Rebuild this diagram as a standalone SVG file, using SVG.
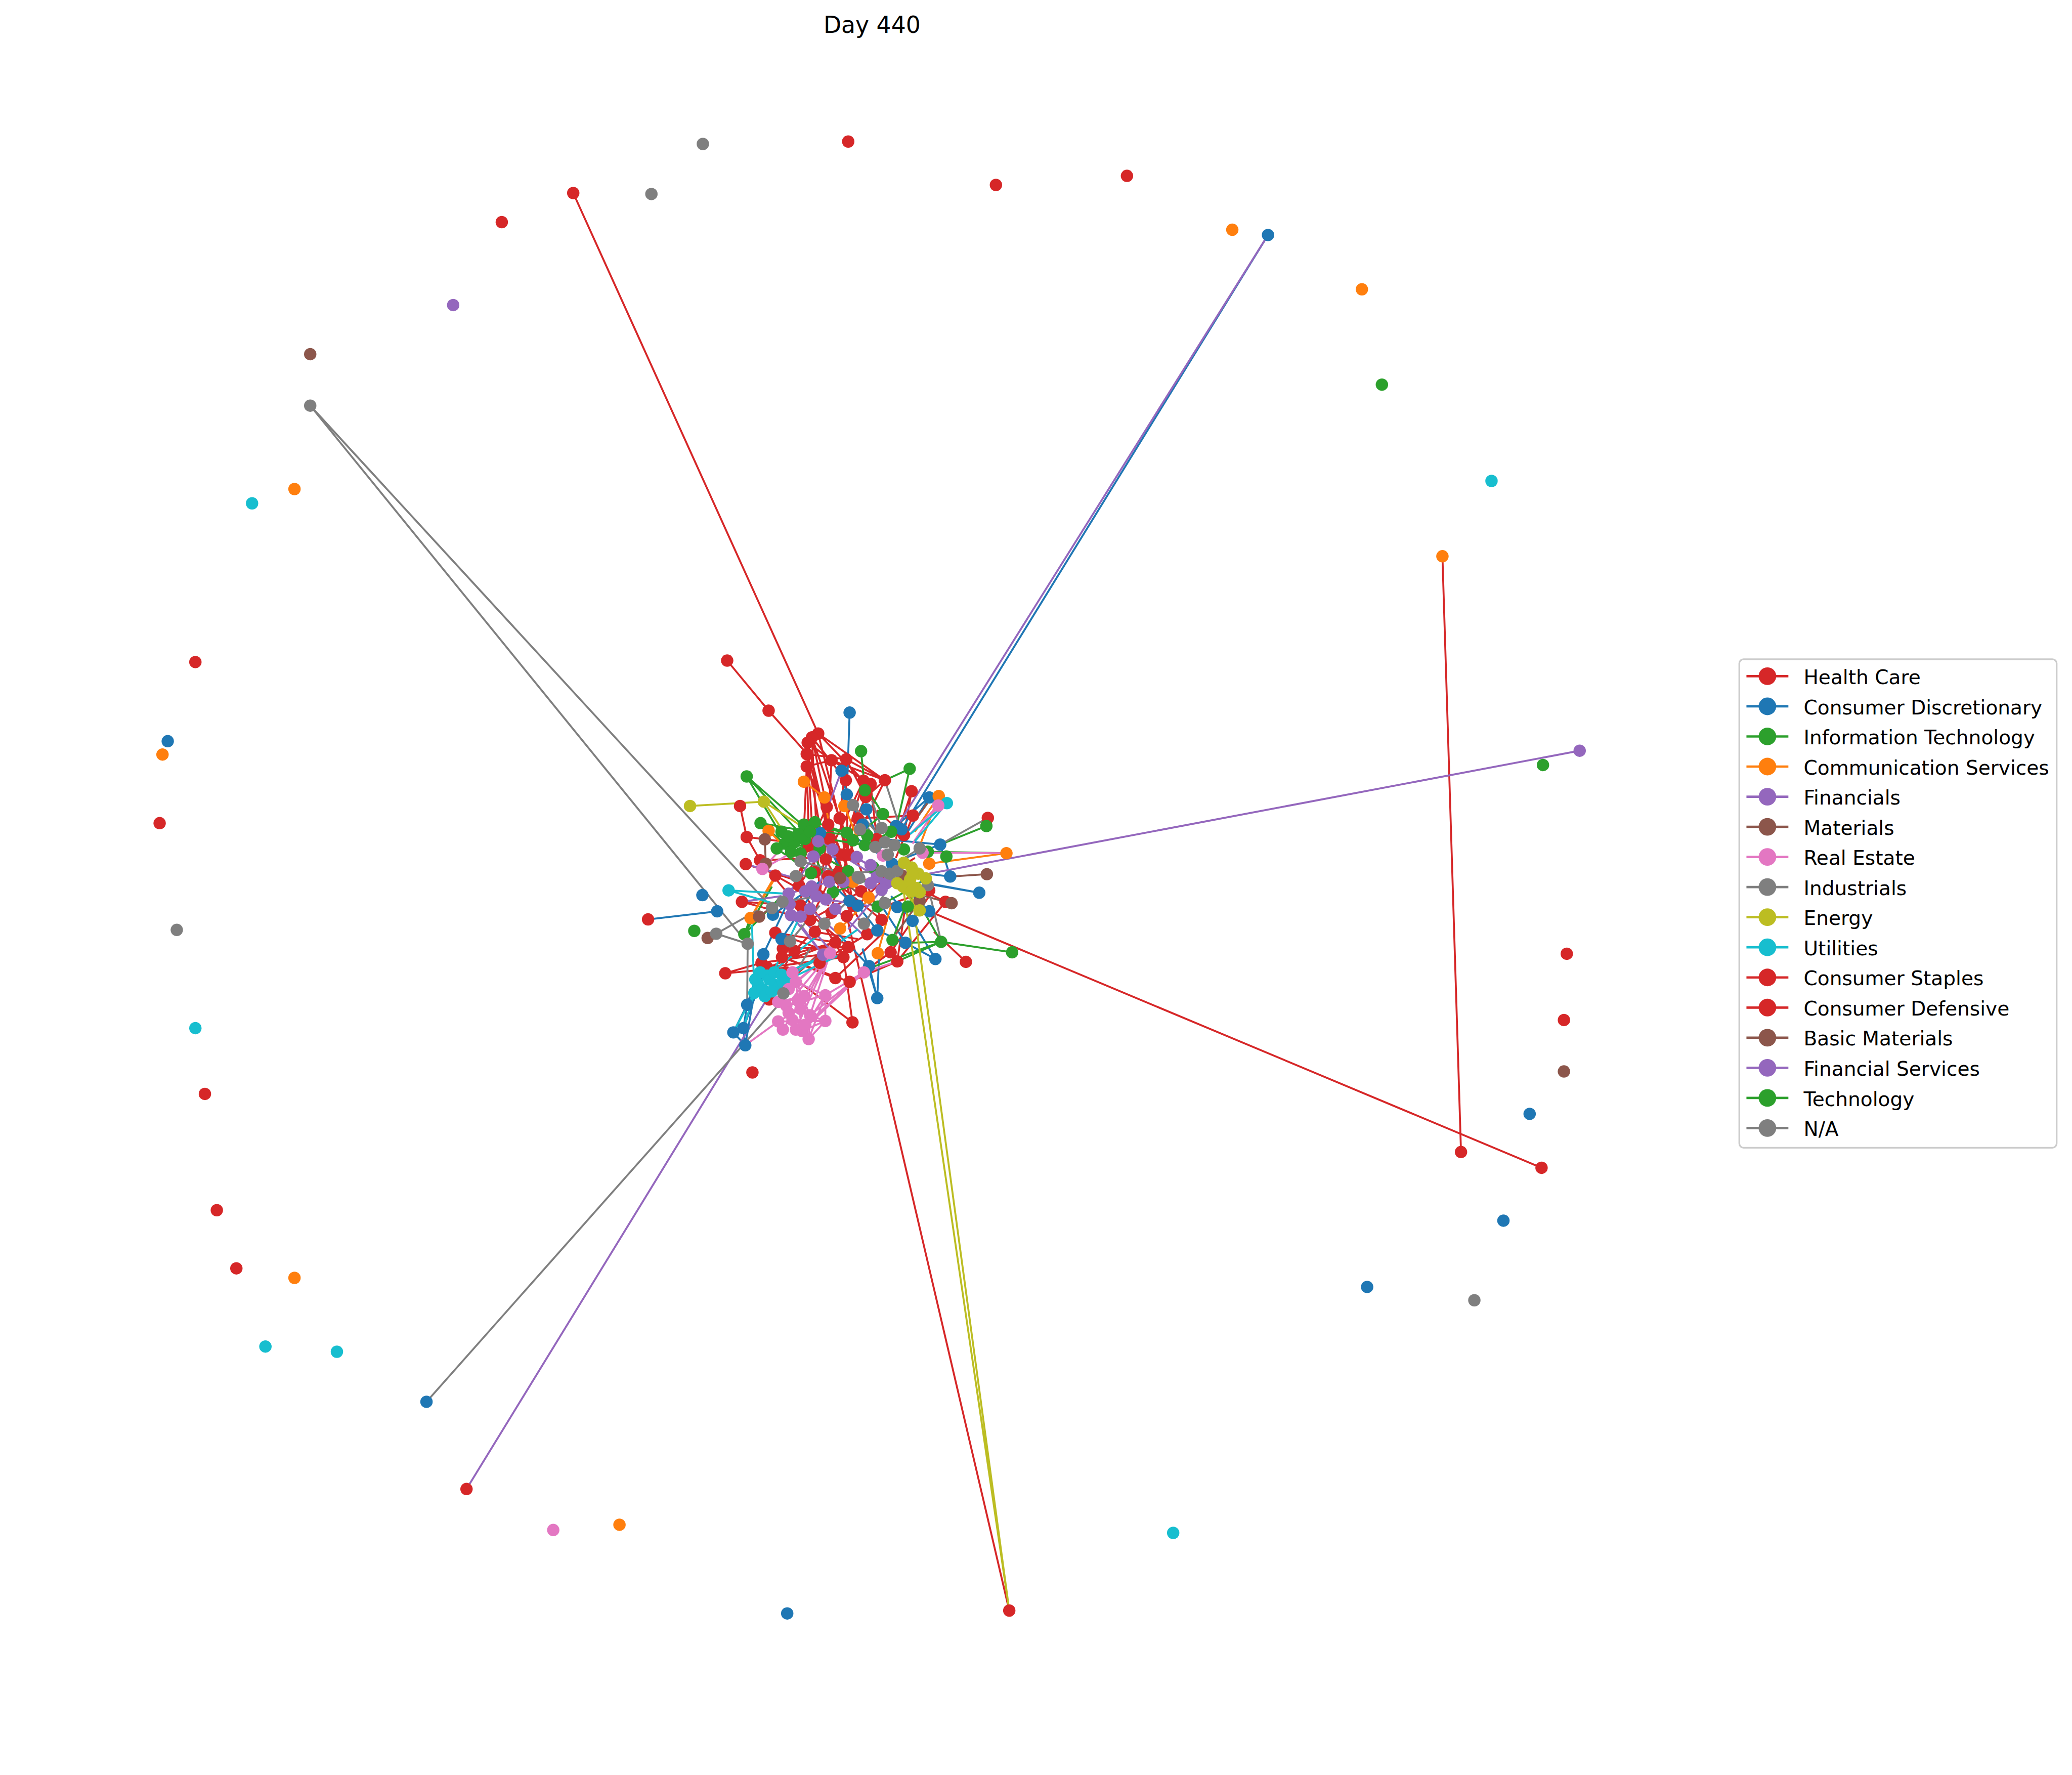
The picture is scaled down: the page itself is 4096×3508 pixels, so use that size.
<svg xmlns="http://www.w3.org/2000/svg" width="4096" height="3508" viewBox="0 0 4096 3508">
<style>
text{font-family:"DejaVu Sans","Liberation Sans",sans-serif;fill:#000}
.e{fill:none;stroke-width:4;stroke-linecap:butt}
.s0{stroke:#d62728}.s1{stroke:#1f77b4}.s2{stroke:#2ca02c}.s3{stroke:#ff7f0e}.s4{stroke:#9467bd}
.s5{stroke:#8c564b}.s6{stroke:#e377c2}.s7{stroke:#7f7f7f}.s8{stroke:#bcbd22}.s9{stroke:#17becf}
.c0{fill:#d62728}.c1{fill:#1f77b4}.c2{fill:#2ca02c}.c3{fill:#ff7f0e}.c4{fill:#9467bd}
.c5{fill:#8c564b}.c6{fill:#e377c2}.c7{fill:#7f7f7f}.c8{fill:#bcbd22}.c9{fill:#17becf}
#nodes circle{r:13px}
#legend circle{r:18.5px}
#legend line{stroke-width:5}
#legend text{font-size:41.5px}
</style>
<rect width="4096" height="3508" fill="#fff"/>
<g transform="scale(0.942)">
<text x="1830" y="69" font-size="48.5" text-anchor="middle">Day 440</text>
<g id="edges">
<path class="e s0" d="M1203 405L1717 1539M1526 1386L1613 1491L1695 1583M2118 3379L1777 1922M3235 2450L1950 1912M3066 2417L3027 1167M1717 1539L1812 1638M1717 1539L1857 1637M1704 1547L1775 1637M1704 1547L1762 1717M1704 1547L1735 1693M1695 1558L1745 1595M1695 1558L1740 1760M1693 1582L1776 1593M1693 1582L1738 1730M1693 1582L1733 1803M1693 1608L1698 1775M1693 1608L1745 1595M1693 1608L1767 1793M1695 1583L1710 1830M1745 1595L1857 1637M1776 1593L1857 1637M1745 1595L1827 1645M1776 1593L1817 1672M1717 1539L1693 1608M1704 1547L1693 1582M1857 1637L1817 1672M1913 1660L1897 1752M1913 1660L1880 1760M1916 1711L1800 1717M1775 1637L1780 1793M1812 1638L1767 1793M1827 1645L1840 1760M1735 1693L1760 1830M1762 1717L1790 1900M1738 1730L1720 1880M1740 1760L1780 1860M1567 1756L1595 1805L1700 1800M1567 1756L1680 1770M1565 1813L1680 1850M1595 1805L1700 1930M1627 1837L1740 1900M1557 1892L1660 1920M1557 1892L1680 1900M1680 1900L1780 1987M1677 1858L1770 2008M1710 1955L1800 1970M1627 1957L1753 1977M1627 1957L1770 2008M1643 1990L1780 1987M1641 2008L1753 1977M1598 2020L1742 2000M1610 2030L1770 2008M1610 2030L1753 1977M1522 2042L1598 2020M1522 2042L1650 2030M1641 2008L1753 2052M1641 2008L1783 2060M1650 2040L1789 2145M1753 2052L1850 1960M1783 2060L1883 2017M1783 2060L1869 1998M1789 2145L1770 2008M1869 1998L1950 1880M1883 2017L1984 1892M1883 2017L1900 1900M2027 2018L1960 1955M1984 1892L1900 1850M1807 1870L1920 1800M1807 1870L1700 1930M1950 1868L1860 1900M1777 1922L1860 1840M1738 1838L1850 1930M1614 2097L1720 2000M1614 2097L1660 2000M1897 1752L1840 1700M1916 1711L1880 1800M1553 1691L1567 1756M1720 2020L1820 1960M1667 1995L1745 1915M1693 1582L1790 1900M1695 1558L1760 1830M1704 1547L1720 1880M1717 1539L1780 1793M1693 1608L1680 1900M1745 1595L1738 1730M1776 1593L1762 1717M1812 1638L1733 1803M1857 1637L1780 1793M1827 1645L1767 1793M1735 1693L1698 1775M1762 1717L1850 1930M1738 1730L1800 1870M1740 1760L1677 1858M1780 1793L1740 1920M1733 1803L1820 1960M1767 1793L1700 1930M1698 1775L1650 1900"/>
<path class="e s1" d="M2661 493L1892 1740M1783 1495L1778 1640M1766 1617L1777 1667M1777 1667L1810 1730M1950 1673L1880 1733M1950 1673L1905 1745M1973 1772L1850 1760M1973 1772L1900 1800M2055 1873L1950 1855M2055 1873L1930 1850M1360 1929L1505 1912M1622 1919L1720 1850M1640 1970L1700 1880M1602 2002L1650 1900M1568 2108L1602 2002M1560 2157L1600 2050M1539 2166L1590 2063M1564 2193L1560 2157M1539 2166L1564 2193M1560 2157L1568 2108M1539 2166L1568 2108M1564 2193L1583 2083M1841 2094L1824 2027M1841 2094L1845 2000M1841 2094L1810 1990M1963 2012L1900 1978M1963 2012L1915 1932M1900 1978L1841 1952M1900 1978L1850 1900M1915 1932L1870 1880M1950 1912L1900 1863M1841 1952L1800 1900M1783 1890L1720 1830M1994 1839L1920 1830M1994 1839L1973 1772M1872 1812L1800 1760M1721 1748L1780 1850M1818 1698L1850 1780M1824 2027L1760 1960"/>
<path class="e s2" d="M1567 1629L1690 1760M1567 1629L1650 1770M1567 1629L1700 1745M1807 1576L1815 1658M1909 1613L1857 1637M1909 1613L1880 1740M1596 1727L1647 1770M2070 1733L1973 1772M2124 1998L1975 1976M1975 1976L1900 1978M1975 1976L1883 2017M1975 1976L1920 1880M1947 1787L2112 1790M1562 1960L1640 1880M1562 1960L1620 1860M1562 1960L1575 1926M1710 1725L1777 1747M1687 1730L1660 1787M1815 1773L1870 1745M1820 1753L1897 1782M1702 1832L1780 1828M1748 1872L1840 1840M1842 1902L1920 1860M1905 1902L1930 1850M1873 1972L1900 1900M1853 1708L1810 1640M1853 1708L1790 1760M1820 2033L1975 1976M1640 1745L1720 1780M1655 1755L1780 1828M1675 1750L1815 1773M1690 1760L1748 1872M1700 1745L1820 1753M1630 1780L1702 1832M1596 1727L1700 1745M1647 1770L1720 1780M1687 1730L1777 1747"/>
<path class="e s3" d="M1687 1640L1720 1665M1575 1926L1627 1837M1575 1926L1625 1845M1970 1670L1933 1767M1970 1670L1920 1745M1950 1812L2112 1790M1763 1948L1830 1880M1842 2000L1870 1900M1613 1743L1660 1790M1772 1691L1800 1760M1730 1673L1740 1730"/>
<path class="e s4" d="M3315 1575L1870 1848M2661 493L1880 1738M979 3124L1650 2030M1766 1617L1735 1700M1565 1813L1660 1840M1557 1892L1640 1880M1707 1797L1798 1798M1747 1782L1840 1840M1655 1875L1740 1850M1660 1920L1727 2003M1680 1923L1740 1990M1700 1907L1760 1960M1733 1887L1820 1900M1753 1907L1810 1960M1727 2003L1680 1940M1870 1848L1800 1800M1850 1867L1780 1950M1717 1765L1827 1815M1707 1797L1655 1875M1747 1782L1700 1907"/>
<path class="e s5" d="M2071 1834L1994 1839M1605 1761L1607 1812M1997 1895L1940 1880M1927 1712L1950 1680M1593 1923L1650 1880M1485 1968L1503 1959M1763 1842L1830 1900M1930 1890L1880 1960"/>
<path class="e s6" d="M1600 1823L1660 1790M1600 1823L1640 1780M1969 1690L1900 1760M1969 1690L1915 1770M1936 1789L2112 1790M1853 1795L1900 1830M1742 2000L1663 2040M1742 2000L1700 2130M1742 2000L1687 2090M1742 2000L1670 2060M1742 2000L1650 2110M1813 2040L1700 2130M1813 2040L1732 2088M1813 2040L1683 2163M1813 2040L1883 2017M1732 2088L1670 2060M1732 2088L1697 2180M1732 2088L1683 2163M1732 2088L1732 2142M1732 2142L1697 2180M1732 2142L1663 2140M1732 2142L1683 2163M1732 2142L1700 2130M1732 2142L1633 2143M1700 2130L1663 2040M1700 2130L1697 2180M1633 2143L1680 2117M1643 2160L1687 2090M1633 2143L1564 2193M1663 2140L1697 2180M1683 2163L1670 2060M1633 2102L1687 2090M1655 2075L1742 2000M1680 2117L1742 2000M1650 2110L1732 2088M1670 2160L1742 2000M1690 2150L1813 2040"/>
<path class="e s7" d="M651 851L1569 1980M651 851L1620 1905M895 2941L1650 2090M1569 1980L1568 2108M1503 1959L1569 1980M1503 1959L1590 1910M1857 1637L1890 1740M2073 1716L1973 1772M1790 1689L1830 1750M1813 1938L1860 1870M1730 1938L1790 1880M1658 1975L1720 1900M1642 1892L1720 1880M1644 2084L1700 1990M1947 1857L1973 1967M1850 1737L1830 1680M1930 1780L1850 1830M1680 1807L1800 1840M1670 1838L1850 1828M1790 1689L1857 1767"/>
<path class="e s8" d="M1448 1691L1603 1682M1603 1682L1700 1745M1603 1682L1680 1800M2118 3379L1895 1860M2118 3379L1913 1870M1897 1810L1943 1843M1883 1853L1930 1910"/>
<path class="e s9" d="M1987 1685L1910 1750M1987 1685L1920 1765M1529 1868L1650 1875M1529 1868L1640 1900M1610 2047L1720 1960M1627 2067L1750 1990M1643 2060L1770 2000M1657 2050L1800 1950M1583 2083L1578 1940M1583 2083L1539 2166M1590 2063L1560 2157M1600 2075L1568 2108M1615 2055L1680 1920M1640 2045L1740 2000"/>
</g>
<g id="nodes">
<g id="sector-red">
<circle id="n1" class="c0" cx="1780" cy="297"/><circle id="n2" class="c0" cx="2090" cy="388"/><circle id="n3" class="c0" cx="2365" cy="369"/><circle id="n4" class="c0" cx="1203" cy="405"/><circle id="n5" class="c0" cx="1053" cy="466"/><circle id="n6" class="c0" cx="410" cy="1389"/><circle id="n7" class="c0" cx="335" cy="1727"/><circle id="n8" class="c0" cx="3288" cy="2001"/><circle id="n9" class="c0" cx="3282" cy="2140"/><circle id="n10" class="c0" cx="430" cy="2295"/><circle id="n11" class="c0" cx="3066" cy="2417"/><circle id="n12" class="c0" cx="3235" cy="2450"/><circle id="n13" class="c0" cx="455" cy="2539"/><circle id="n14" class="c0" cx="496" cy="2661"/><circle id="n15" class="c0" cx="979" cy="3124"/><circle id="n16" class="c0" cx="2118" cy="3379"/>
<circle id="n17" class="c0" cx="1526" cy="1386"/><circle id="n18" class="c0" cx="1613" cy="1491"/><circle id="n19" class="c0" cx="1717" cy="1539"/><circle id="n20" class="c0" cx="1704" cy="1547"/><circle id="n21" class="c0" cx="1695" cy="1558"/><circle id="n22" class="c0" cx="1693" cy="1582"/><circle id="n23" class="c0" cx="1693" cy="1608"/><circle id="n24" class="c0" cx="1745" cy="1595"/><circle id="n25" class="c0" cx="1776" cy="1593"/><circle id="n26" class="c0" cx="1775" cy="1637"/><circle id="n27" class="c0" cx="1812" cy="1638"/><circle id="n28" class="c0" cx="1827" cy="1645"/><circle id="n29" class="c0" cx="1817" cy="1672"/><circle id="n30" class="c0" cx="1857" cy="1637"/><circle id="n31" class="c0" cx="1913" cy="1660"/><circle id="n32" class="c0" cx="1916" cy="1711"/><circle id="n33" class="c0" cx="1735" cy="1693"/><circle id="n34" class="c0" cx="1762" cy="1717"/><circle id="n35" class="c0" cx="1738" cy="1730"/><circle id="n36" class="c0" cx="1740" cy="1760"/><circle id="n37" class="c0" cx="1698" cy="1775"/><circle id="n38" class="c0" cx="1767" cy="1793"/><circle id="n39" class="c0" cx="1780" cy="1793"/><circle id="n40" class="c0" cx="1733" cy="1803"/><circle id="n41" class="c0" cx="1553" cy="1691"/><circle id="n42" class="c0" cx="1567" cy="1756"/><circle id="n43" class="c0" cx="1595" cy="1805"/><circle id="n44" class="c0" cx="1565" cy="1813"/><circle id="n45" class="c0" cx="1897" cy="1752"/><circle id="n46" class="c0" cx="2073" cy="1716"/><circle id="n47" class="c0" cx="1627" cy="1837"/><circle id="n48" class="c0" cx="1557" cy="1892"/><circle id="n49" class="c0" cx="1360" cy="1929"/><circle id="n50" class="c0" cx="1680" cy="1900"/><circle id="n51" class="c0" cx="1677" cy="1858"/><circle id="n52" class="c0" cx="1738" cy="1838"/><circle id="n53" class="c0" cx="1807" cy="1870"/><circle id="n54" class="c0" cx="1950" cy="1868"/><circle id="n55" class="c0" cx="1777" cy="1922"/><circle id="n56" class="c0" cx="1710" cy="1955"/><circle id="n57" class="c0" cx="1627" cy="1957"/><circle id="n58" class="c0" cx="1643" cy="1990"/><circle id="n59" class="c0" cx="1753" cy="1977"/><circle id="n60" class="c0" cx="1780" cy="1987"/><circle id="n61" class="c0" cx="1770" cy="2008"/><circle id="n62" class="c0" cx="1598" cy="2020"/><circle id="n63" class="c0" cx="1610" cy="2030"/><circle id="n64" class="c0" cx="1522" cy="2042"/><circle id="n65" class="c0" cx="1641" cy="2008"/><circle id="n66" class="c0" cx="1869" cy="1998"/><circle id="n67" class="c0" cx="1883" cy="2017"/><circle id="n68" class="c0" cx="1984" cy="1892"/><circle id="n69" class="c0" cx="2027" cy="2018"/><circle id="n70" class="c0" cx="1753" cy="2052"/><circle id="n71" class="c0" cx="1783" cy="2060"/><circle id="n72" class="c0" cx="1789" cy="2145"/><circle id="n73" class="c0" cx="1614" cy="2097"/><circle id="n74" class="c0" cx="1579" cy="2250"/><circle id="n75" class="c0" cx="1760" cy="1830"/><circle id="n76" class="c0" cx="1720" cy="1880"/><circle id="n77" class="c0" cx="1790" cy="1900"/><circle id="n78" class="c0" cx="1700" cy="1930"/><circle id="n79" class="c0" cx="1745" cy="1915"/><circle id="n80" class="c0" cx="1850" cy="1930"/><circle id="n81" class="c0" cx="1820" cy="1960"/><circle id="n82" class="c0" cx="1667" cy="1995"/><circle id="n83" class="c0" cx="1720" cy="2020"/><circle id="n84" class="c0" cx="1650" cy="2040"/><circle id="n85" class="c0" cx="1800" cy="1717"/><circle id="n86" class="c0" cx="1840" cy="1760"/><circle id="n87" class="c0" cx="1710" cy="1830"/>
</g>
<g id="sector-blue">
<circle id="n88" class="c1" cx="2661" cy="493"/><circle id="n89" class="c1" cx="352" cy="1555"/><circle id="n90" class="c1" cx="3210" cy="2337"/><circle id="n91" class="c1" cx="3155" cy="2561"/><circle id="n92" class="c1" cx="2869" cy="2700"/><circle id="n93" class="c1" cx="895" cy="2941"/><circle id="n94" class="c1" cx="1652" cy="3385"/>
<circle id="n95" class="c1" cx="1783" cy="1495"/><circle id="n96" class="c1" cx="1766" cy="1617"/><circle id="n97" class="c1" cx="1777" cy="1667"/><circle id="n98" class="c1" cx="1818" cy="1698"/><circle id="n99" class="c1" cx="1721" cy="1748"/><circle id="n100" class="c1" cx="1810" cy="1730"/><circle id="n101" class="c1" cx="1880" cy="1733"/><circle id="n102" class="c1" cx="1950" cy="1673"/><circle id="n103" class="c1" cx="1973" cy="1772"/><circle id="n104" class="c1" cx="1872" cy="1812"/><circle id="n105" class="c1" cx="1474" cy="1878"/><circle id="n106" class="c1" cx="1505" cy="1912"/><circle id="n107" class="c1" cx="1622" cy="1919"/><circle id="n108" class="c1" cx="1640" cy="1970"/><circle id="n109" class="c1" cx="1602" cy="2002"/><circle id="n110" class="c1" cx="1783" cy="1890"/><circle id="n111" class="c1" cx="1841" cy="1952"/><circle id="n112" class="c1" cx="1900" cy="1978"/><circle id="n113" class="c1" cx="1915" cy="1932"/><circle id="n114" class="c1" cx="1950" cy="1912"/><circle id="n115" class="c1" cx="1994" cy="1839"/><circle id="n116" class="c1" cx="2055" cy="1873"/><circle id="n117" class="c1" cx="1883" cy="1903"/><circle id="n118" class="c1" cx="1963" cy="2012"/><circle id="n119" class="c1" cx="1824" cy="2027"/><circle id="n120" class="c1" cx="1841" cy="2094"/><circle id="n121" class="c1" cx="1568" cy="2108"/><circle id="n122" class="c1" cx="1560" cy="2157"/><circle id="n123" class="c1" cx="1539" cy="2166"/><circle id="n124" class="c1" cx="1564" cy="2193"/><circle id="n125" class="c1" cx="1800" cy="1900"/><circle id="n315" class="c1" cx="1892" cy="1740"/>
</g>
<g id="sector-green">
<circle id="n126" class="c2" cx="2900" cy="807"/><circle id="n127" class="c2" cx="3238" cy="1605"/>
<circle id="n128" class="c2" cx="1807" cy="1576"/><circle id="n129" class="c2" cx="1909" cy="1613"/><circle id="n130" class="c2" cx="1815" cy="1658"/><circle id="n131" class="c2" cx="1567" cy="1629"/><circle id="n132" class="c2" cx="1596" cy="1727"/><circle id="n133" class="c2" cx="1853" cy="1708"/><circle id="n134" class="c2" cx="1710" cy="1725"/><circle id="n135" class="c2" cx="1687" cy="1730"/><circle id="n136" class="c2" cx="1647" cy="1770"/><circle id="n137" class="c2" cx="1667" cy="1767"/><circle id="n138" class="c2" cx="1660" cy="1787"/><circle id="n139" class="c2" cx="1777" cy="1747"/><circle id="n140" class="c2" cx="1790" cy="1763"/><circle id="n141" class="c2" cx="1815" cy="1773"/><circle id="n142" class="c2" cx="1820" cy="1753"/><circle id="n143" class="c2" cx="1870" cy="1745"/><circle id="n144" class="c2" cx="1897" cy="1782"/><circle id="n145" class="c2" cx="1986" cy="1797"/><circle id="n146" class="c2" cx="2070" cy="1733"/><circle id="n147" class="c2" cx="1702" cy="1832"/><circle id="n148" class="c2" cx="1748" cy="1872"/><circle id="n149" class="c2" cx="1780" cy="1828"/><circle id="n150" class="c2" cx="1842" cy="1902"/><circle id="n151" class="c2" cx="1905" cy="1902"/><circle id="n152" class="c2" cx="1562" cy="1960"/><circle id="n153" class="c2" cx="1457" cy="1953"/><circle id="n154" class="c2" cx="1873" cy="1972"/><circle id="n155" class="c2" cx="1975" cy="1976"/><circle id="n156" class="c2" cx="2124" cy="1998"/><circle id="n157" class="c2" cx="1640" cy="1745"/><circle id="n158" class="c2" cx="1655" cy="1755"/><circle id="n159" class="c2" cx="1675" cy="1750"/><circle id="n160" class="c2" cx="1690" cy="1760"/><circle id="n161" class="c2" cx="1700" cy="1745"/><circle id="n162" class="c2" cx="1630" cy="1780"/><circle id="n163" class="c2" cx="1680" cy="1790"/><circle id="n164" class="c2" cx="1833" cy="1820"/><circle id="n165" class="c2" cx="1947" cy="1787"/><circle id="n166" class="c2" cx="1720" cy="1780"/>
</g>
<g id="sector-orange">
<circle id="n167" class="c3" cx="2586" cy="482"/><circle id="n168" class="c3" cx="2858" cy="607"/><circle id="n169" class="c3" cx="618" cy="1026"/><circle id="n170" class="c3" cx="3027" cy="1167"/><circle id="n171" class="c3" cx="341" cy="1583"/><circle id="n172" class="c3" cx="618" cy="2681"/><circle id="n173" class="c3" cx="1300" cy="3199"/>
<circle id="n174" class="c3" cx="1687" cy="1640"/><circle id="n175" class="c3" cx="1730" cy="1673"/><circle id="n176" class="c3" cx="1772" cy="1691"/><circle id="n177" class="c3" cx="1970" cy="1670"/><circle id="n178" class="c3" cx="1613" cy="1743"/><circle id="n179" class="c3" cx="2112" cy="1790"/><circle id="n180" class="c3" cx="1950" cy="1812"/><circle id="n181" class="c3" cx="1575" cy="1926"/><circle id="n182" class="c3" cx="1763" cy="1948"/><circle id="n183" class="c3" cx="1842" cy="2000"/><circle id="n184" class="c3" cx="1823" cy="1883"/><circle id="n185" class="c3" cx="1790" cy="1850"/>
</g>
<g id="sector-purple">
<circle id="n186" class="c4" cx="951" cy="640"/><circle id="n187" class="c4" cx="3315" cy="1575"/>
<circle id="n188" class="c4" cx="1717" cy="1765"/><circle id="n189" class="c4" cx="1747" cy="1782"/><circle id="n190" class="c4" cx="1707" cy="1797"/><circle id="n191" class="c4" cx="1798" cy="1798"/><circle id="n192" class="c4" cx="1827" cy="1815"/><circle id="n193" class="c4" cx="1840" cy="1840"/><circle id="n194" class="c4" cx="1860" cy="1853"/><circle id="n195" class="c4" cx="1850" cy="1867"/><circle id="n196" class="c4" cx="1827" cy="1853"/><circle id="n197" class="c4" cx="1655" cy="1875"/><circle id="n198" class="c4" cx="1657" cy="1897"/><circle id="n199" class="c4" cx="1660" cy="1920"/><circle id="n200" class="c4" cx="1680" cy="1923"/><circle id="n201" class="c4" cx="1700" cy="1907"/><circle id="n202" class="c4" cx="1703" cy="1860"/><circle id="n203" class="c4" cx="1713" cy="1880"/><circle id="n204" class="c4" cx="1733" cy="1887"/><circle id="n205" class="c4" cx="1753" cy="1907"/><circle id="n206" class="c4" cx="1740" cy="1850"/><circle id="n207" class="c4" cx="1727" cy="2003"/><circle id="n208" class="c4" cx="1770" cy="1850"/><circle id="n209" class="c4" cx="1690" cy="1870"/><circle id="n210" class="c4" cx="1870" cy="1848"/>
</g>
<g id="sector-brown">
<circle id="n211" class="c5" cx="651" cy="743"/><circle id="n212" class="c5" cx="3282" cy="2248"/>
<circle id="n213" class="c5" cx="1605" cy="1761"/><circle id="n214" class="c5" cx="1607" cy="1812"/><circle id="n215" class="c5" cx="1593" cy="1923"/><circle id="n216" class="c5" cx="1485" cy="1968"/><circle id="n217" class="c5" cx="1997" cy="1895"/><circle id="n218" class="c5" cx="2071" cy="1834"/><circle id="n219" class="c5" cx="1893" cy="1837"/><circle id="n220" class="c5" cx="1930" cy="1890"/><circle id="n221" class="c5" cx="1763" cy="1842"/>
</g>
<g id="sector-cyan">
<circle id="n222" class="c9" cx="3130" cy="1009"/><circle id="n223" class="c9" cx="529" cy="1056"/><circle id="n224" class="c9" cx="410" cy="2157"/><circle id="n225" class="c9" cx="557" cy="2825"/><circle id="n226" class="c9" cx="707" cy="2836"/><circle id="n227" class="c9" cx="2462" cy="3216"/>
<circle id="n228" class="c9" cx="1987" cy="1685"/><circle id="n229" class="c9" cx="1529" cy="1868"/><circle id="n230" class="c9" cx="1590" cy="2063"/><circle id="n231" class="c9" cx="1583" cy="2083"/><circle id="n232" class="c9" cx="1610" cy="2047"/><circle id="n233" class="c9" cx="1627" cy="2067"/><circle id="n234" class="c9" cx="1643" cy="2060"/><circle id="n235" class="c9" cx="1657" cy="2050"/><circle id="n236" class="c9" cx="1600" cy="2075"/><circle id="n237" class="c9" cx="1615" cy="2055"/><circle id="n238" class="c9" cx="1595" cy="2040"/><circle id="n239" class="c9" cx="1625" cy="2040"/><circle id="n240" class="c9" cx="1640" cy="2045"/><circle id="n241" class="c9" cx="1605" cy="2090"/><circle id="n242" class="c9" cx="1620" cy="2080"/><circle id="n243" class="c9" cx="1585" cy="2055"/>
</g>
<g id="sector-pink">
<circle id="n244" class="c6" cx="1161" cy="3210"/>
<circle id="n245" class="c6" cx="1969" cy="1690"/><circle id="n246" class="c6" cx="1936" cy="1789"/><circle id="n247" class="c6" cx="1853" cy="1795"/><circle id="n248" class="c6" cx="1600" cy="1823"/><circle id="n249" class="c6" cx="1742" cy="2000"/><circle id="n250" class="c6" cx="1813" cy="2040"/><circle id="n251" class="c6" cx="1663" cy="2040"/><circle id="n252" class="c6" cx="1670" cy="2060"/><circle id="n253" class="c6" cx="1687" cy="2090"/><circle id="n254" class="c6" cx="1680" cy="2117"/><circle id="n255" class="c6" cx="1633" cy="2143"/><circle id="n256" class="c6" cx="1643" cy="2160"/><circle id="n257" class="c6" cx="1663" cy="2140"/><circle id="n258" class="c6" cx="1683" cy="2163"/><circle id="n259" class="c6" cx="1697" cy="2180"/><circle id="n260" class="c6" cx="1700" cy="2130"/><circle id="n261" class="c6" cx="1732" cy="2088"/><circle id="n262" class="c6" cx="1732" cy="2142"/><circle id="n263" class="c6" cx="1633" cy="2102"/><circle id="n264" class="c6" cx="1655" cy="2075"/><circle id="n265" class="c6" cx="1650" cy="2110"/><circle id="n266" class="c6" cx="1670" cy="2160"/><circle id="n267" class="c6" cx="1690" cy="2150"/><circle id="n268" class="c6" cx="1655" cy="2125"/><circle id="n269" class="c6" cx="1675" cy="2100"/>
</g>
<g id="sector-gray">
<circle id="n270" class="c7" cx="1475" cy="302"/><circle id="n271" class="c7" cx="1367" cy="407"/><circle id="n272" class="c7" cx="651" cy="851"/><circle id="n273" class="c7" cx="371" cy="1951"/><circle id="n274" class="c7" cx="3094" cy="2728"/>
<circle id="n275" class="c7" cx="1790" cy="1689"/><circle id="n276" class="c7" cx="1805" cy="1740"/><circle id="n277" class="c7" cx="1850" cy="1737"/><circle id="n278" class="c7" cx="1857" cy="1767"/><circle id="n279" class="c7" cx="1877" cy="1773"/><circle id="n280" class="c7" cx="1930" cy="1780"/><circle id="n281" class="c7" cx="1863" cy="1793"/><circle id="n282" class="c7" cx="1837" cy="1777"/><circle id="n283" class="c7" cx="1680" cy="1807"/><circle id="n284" class="c7" cx="1670" cy="1838"/><circle id="n285" class="c7" cx="1642" cy="1892"/><circle id="n286" class="c7" cx="1800" cy="1840"/><circle id="n287" class="c7" cx="1850" cy="1828"/><circle id="n288" class="c7" cx="1867" cy="1833"/><circle id="n289" class="c7" cx="1883" cy="1827"/><circle id="n290" class="c7" cx="1803" cy="1842"/><circle id="n291" class="c7" cx="1947" cy="1857"/><circle id="n292" class="c7" cx="1857" cy="1895"/><circle id="n293" class="c7" cx="1813" cy="1938"/><circle id="n294" class="c7" cx="1730" cy="1938"/><circle id="n295" class="c7" cx="1658" cy="1975"/><circle id="n296" class="c7" cx="1569" cy="1980"/><circle id="n297" class="c7" cx="1503" cy="1959"/><circle id="n298" class="c7" cx="1644" cy="2084"/><circle id="n299" class="c7" cx="1620" cy="1905"/>
</g>
<g id="sector-olive">
<circle id="n300" class="c8" cx="1448" cy="1691"/><circle id="n301" class="c8" cx="1603" cy="1682"/><circle id="n302" class="c8" cx="1897" cy="1810"/><circle id="n303" class="c8" cx="1913" cy="1820"/><circle id="n304" class="c8" cx="1927" cy="1833"/><circle id="n305" class="c8" cx="1943" cy="1843"/><circle id="n306" class="c8" cx="1923" cy="1863"/><circle id="n307" class="c8" cx="1900" cy="1863"/><circle id="n308" class="c8" cx="1883" cy="1853"/><circle id="n309" class="c8" cx="1930" cy="1872"/><circle id="n310" class="c8" cx="1930" cy="1910"/><circle id="n311" class="c8" cx="1910" cy="1845"/><circle id="n312" class="c8" cx="1895" cy="1860"/><circle id="n313" class="c8" cx="1913" cy="1870"/><circle id="n314" class="c8" cx="1915" cy="1835"/>
</g>
</g>
<g id="legend">
<rect x="3650" y="1383" width="666" height="1025" rx="9" fill="#fff" fill-opacity="0.8" stroke="#cccccc" stroke-width="3.5"/>
<g id="lg1"><line x1="3665" y1="1418.7" x2="3753" y2="1418.7" class="s0"/><circle cx="3709" cy="1418.7" class="c0"/><text x="3785" y="1435.3">Health Care</text></g>
<g id="lg2"><line x1="3665" y1="1481.9" x2="3753" y2="1481.9" class="s1"/><circle cx="3709" cy="1481.9" class="c1"/><text x="3785" y="1498.5">Consumer Discretionary</text></g>
<g id="lg3"><line x1="3665" y1="1545.1" x2="3753" y2="1545.1" class="s2"/><circle cx="3709" cy="1545.1" class="c2"/><text x="3785" y="1561.7">Information Technology</text></g>
<g id="lg4"><line x1="3665" y1="1608.3" x2="3753" y2="1608.3" class="s3"/><circle cx="3709" cy="1608.3" class="c3"/><text x="3785" y="1624.9">Communication Services</text></g>
<g id="lg5"><line x1="3665" y1="1671.5" x2="3753" y2="1671.5" class="s4"/><circle cx="3709" cy="1671.5" class="c4"/><text x="3785" y="1688.1">Financials</text></g>
<g id="lg6"><line x1="3665" y1="1734.7" x2="3753" y2="1734.7" class="s5"/><circle cx="3709" cy="1734.7" class="c5"/><text x="3785" y="1751.3">Materials</text></g>
<g id="lg7"><line x1="3665" y1="1797.9" x2="3753" y2="1797.9" class="s6"/><circle cx="3709" cy="1797.9" class="c6"/><text x="3785" y="1814.5">Real Estate</text></g>
<g id="lg8"><line x1="3665" y1="1861.1" x2="3753" y2="1861.1" class="s7"/><circle cx="3709" cy="1861.1" class="c7"/><text x="3785" y="1877.7">Industrials</text></g>
<g id="lg9"><line x1="3665" y1="1924.3" x2="3753" y2="1924.3" class="s8"/><circle cx="3709" cy="1924.3" class="c8"/><text x="3785" y="1940.9">Energy</text></g>
<g id="lg10"><line x1="3665" y1="1987.5" x2="3753" y2="1987.5" class="s9"/><circle cx="3709" cy="1987.5" class="c9"/><text x="3785" y="2004.1">Utilities</text></g>
<g id="lg11"><line x1="3665" y1="2050.7" x2="3753" y2="2050.7" class="s0"/><circle cx="3709" cy="2050.7" class="c0"/><text x="3785" y="2067.3">Consumer Staples</text></g>
<g id="lg12"><line x1="3665" y1="2113.9" x2="3753" y2="2113.9" class="s0"/><circle cx="3709" cy="2113.9" class="c0"/><text x="3785" y="2130.5">Consumer Defensive</text></g>
<g id="lg13"><line x1="3665" y1="2177.1" x2="3753" y2="2177.1" class="s5"/><circle cx="3709" cy="2177.1" class="c5"/><text x="3785" y="2193.7">Basic Materials</text></g>
<g id="lg14"><line x1="3665" y1="2240.3" x2="3753" y2="2240.3" class="s4"/><circle cx="3709" cy="2240.3" class="c4"/><text x="3785" y="2256.9">Financial Services</text></g>
<g id="lg15"><line x1="3665" y1="2303.5" x2="3753" y2="2303.5" class="s2"/><circle cx="3709" cy="2303.5" class="c2"/><text x="3785" y="2320.1">Technology</text></g>
<g id="lg16"><line x1="3665" y1="2366.7" x2="3753" y2="2366.7" class="s7"/><circle cx="3709" cy="2366.7" class="c7"/><text x="3785" y="2383.3">N/A</text></g>
</g>
</g>
</svg>
